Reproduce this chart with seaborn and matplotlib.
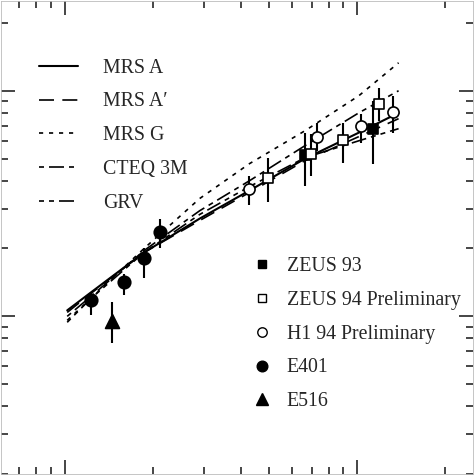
import matplotlib
matplotlib.use("Agg")
import matplotlib.pyplot as plt
import seaborn as sns
import numpy as np
import pandas as pd
from matplotlib.lines import Line2D

# Theory curves
curve_x = [10.2, 12.3, 18.7, 29.0, 42.9, 66.5, 101.6, 139]
mrs_a = [1.063, 1.277, 1.920, 2.713, 3.61, 5.0, 6.52, 7.98]
mrs_ap = [1.041, 1.264, 1.92, 2.66, 3.54, 4.90, 6.26, 7.52]
mrs_g = [0.960, 1.201, 2.0, 3.33, 4.75, 6.65, 9.50, 13.3]
cteq = [1.0, 1.226, 1.958, 2.94, 3.99, 5.71, 7.98, 10.0]
grv = [0.941, 1.201, 1.92, 2.83, 3.76, 5.05, 6.0, 6.79]

# Data: x, y, ylow, yhigh
e401_x = [12.3, 15.9, 18.7, 21.2]
e401_y = [1.177, 1.414, 1.806, 2.354]
e401_lo = [1.01, 1.239, 1.473, 2.0]
e401_hi = [1.264, 1.534, 2.0, 2.714]
e516_x = [14.5]
e516_y = [0.950]
e516_lo = [0.759]
e516_hi = [1.153]
h1_x = [42.9, 73.1, 103.2, 132.5]
h1_y = [3.685, 6.26, 7.0, 8.07]
h1_lo = [3.13, 5.43, 5.89, 6.52]
h1_hi = [4.206, 7.22, 7.91, 9.50]
z94_x = [49.8, 69.7, 89.6, 118.8]
z94_y = [4.12, 5.26, 6.07, 8.76]
z94_lo = [3.20, 4.21, 4.80, 7.37]
z94_hi = [5.05, 6.45, 7.22, 10.31]
z93_x = [66.5, 113.3]
z93_y = [5.21, 6.79]
z93_lo = [3.80, 4.75]
z93_hi = [6.52, 9.03]

sns.set_style("ticks")
plt.rcParams['font.family'] = ['Liberation Serif', 'DejaVu Serif']

fig = plt.figure(figsize=(4.74, 4.75), dpi=100)
ax = fig.add_axes([0.002, 0.002, 0.996, 0.996])
ax.set_xscale("log")
ax.set_yscale("log")
for s in ax.spines.values():
    s.set_linewidth(0.6)
    s.set_color("#bbbbbb")

curves = [("MRS A", mrs_a, (None), 1.5),
          ("MRS A\u2032", mrs_ap, (9, 5), 1.2),
          ("MRS G", mrs_g, (2.5, 3.5), 1.2),
          ("CTEQ 3M", cteq, (3, 3, 9, 3), 1.2),
          ("GRV", grv, (3, 3, 3, 3, 9, 3), 1.2)]
handles1 = []
for name, ys, dash, lw in curves:
    df = pd.DataFrame({"x": curve_x, "y": ys})
    sns.lineplot(data=df, x="x", y="y", ax=ax, color="black", lw=lw)
    ln = ax.lines[-1]
    if dash is not None:
        ln.set_dashes(dash)
    h = Line2D([], [], color="black", lw=lw)
    if dash is not None:
        h.set_dashes(dash)
    handles1.append((h, name))

sets = [("ZEUS 93", z93_x, z93_y, z93_lo, z93_hi, "s", "black", 7),
        ("ZEUS 94 Preliminary", z94_x, z94_y, z94_lo, z94_hi, "s", "white", 7),
        ("H1 94 Preliminary", h1_x, h1_y, h1_lo, h1_hi, "o", "white", 8),
        ("E401", e401_x, e401_y, e401_lo, e401_hi, "o", "black", 9),
        ("E516", e516_x, e516_y, e516_lo, e516_hi, "^", "black", 10)]
handles2 = []
for name, xs, ys, lo, hi, m, fc, ms in sets:
    xs = np.array(xs); ys = np.array(ys)
    err = [ys - np.array(lo), np.array(hi) - ys]
    ax.errorbar(xs, ys, yerr=err, fmt="none", ecolor="black", elinewidth=1.5, capsize=0, zorder=3)
    sns.scatterplot(x=xs, y=ys, ax=ax, marker=m, s=ms**2, color=fc, edgecolor="black",
                    linewidth=1.2, zorder=4)
    handles2.append((Line2D([], [], ls="none", marker=m, markersize=ms * 0.85,
                            markerfacecolor=fc, markeredgecolor="black"), name))

ax.set_xlim(6.05, 250)
ax.set_ylim(0.2, 25)
ax.tick_params(which="both", direction="in", top=True, right=True,
               labelbottom=False, labelleft=False)
ax.tick_params(which="major", length=10, width=1.2)
ax.tick_params(which="minor", length=5, width=1.2)
ax.set_xlabel(""); ax.set_ylabel("")

fs = 14.3
leg1 = ax.legend([h for h, _ in handles1], [n for _, n in handles1], loc="upper left",
                 bbox_to_anchor=(0.042, 0.916), frameon=False, fontsize=fs,
                 handlelength=2.0, handletextpad=1.25, labelspacing=0.75)
ax.add_artist(leg1)
ax.legend([h for h, _ in handles2], [n for _, n in handles2], loc="upper left",
          bbox_to_anchor=(0.498, 0.497), frameon=False, fontsize=fs,
          handlelength=0.8, handletextpad=0.85, labelspacing=0.75)

fig.savefig("out.png", dpi=100)
